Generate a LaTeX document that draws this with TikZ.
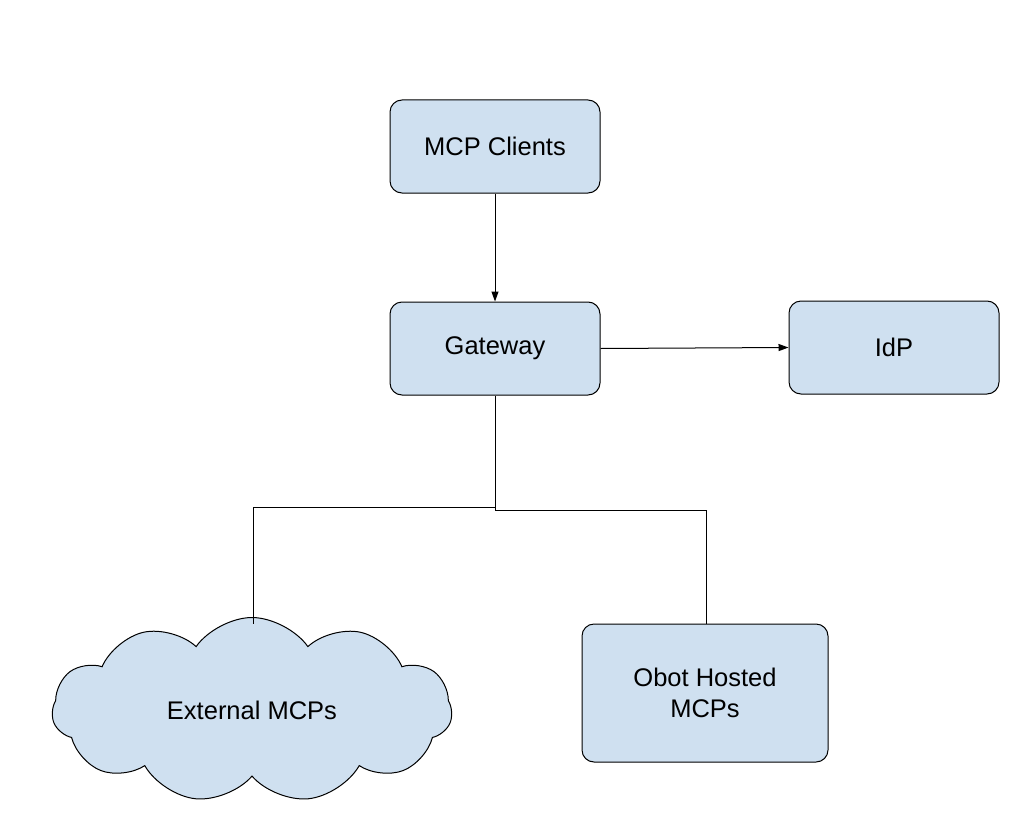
\documentclass[tikz,border=0pt]{standalone}
\usepackage{fontspec}
\setmainfont{Liberation Sans}
\usetikzlibrary{shapes.symbols,arrows.meta}
\begin{document}
\begin{tikzpicture}[x=1pt,y=-1pt,
  box/.style={draw=black,fill=boxblue,rounded corners=12pt,line width=1pt,font=\fontsize{25.5}{31}\selectfont,align=center,inner sep=0pt},
  conn/.style={draw=black,line width=1pt},
  arr/.style={conn,-{Triangle[length=10pt,width=7pt]}}]
\definecolor{boxblue}{HTML}{CFE0F0}
\useasboundingbox (0,0) rectangle (1024,824);
\fill[white] (0,0) rectangle (1024,824);
\node[box,minimum width=210pt,minimum height=93pt] (mcp) at (495,146.5) {MCP Clients};
\node[box,minimum width=210pt,minimum height=93pt] (gw) at (495,348.5) {Gateway};
\node[box,minimum width=210pt,minimum height=93pt] (idp) at (894,347.5) {IdP};
\node[box,minimum width=246pt,minimum height=138pt] (obot) at (705,693) {Obot Hosted\\MCPs};
\node[cloud,cloud puffs=11,cloud puff arc=110,aspect=2.1,draw=black,fill=boxblue,line width=1pt,minimum width=400pt,minimum height=185pt,inner sep=0pt,font=\fontsize{25.5}{31}\selectfont] (ext) at (252,710) {External MCPs};
\coordinate (extTop) at (253,624);
\draw[arr] (mcp.south) -- (gw.north);
\draw[arr] (gw.east) -- (idp.west);
\draw[conn] (gw.south) -- (495,507) -- (253,507) -- (extTop);
\draw[conn] (495,507) -- (495,510) -- (706,510) -- (obot.north-|706,0);
\end{tikzpicture}
\end{document}
